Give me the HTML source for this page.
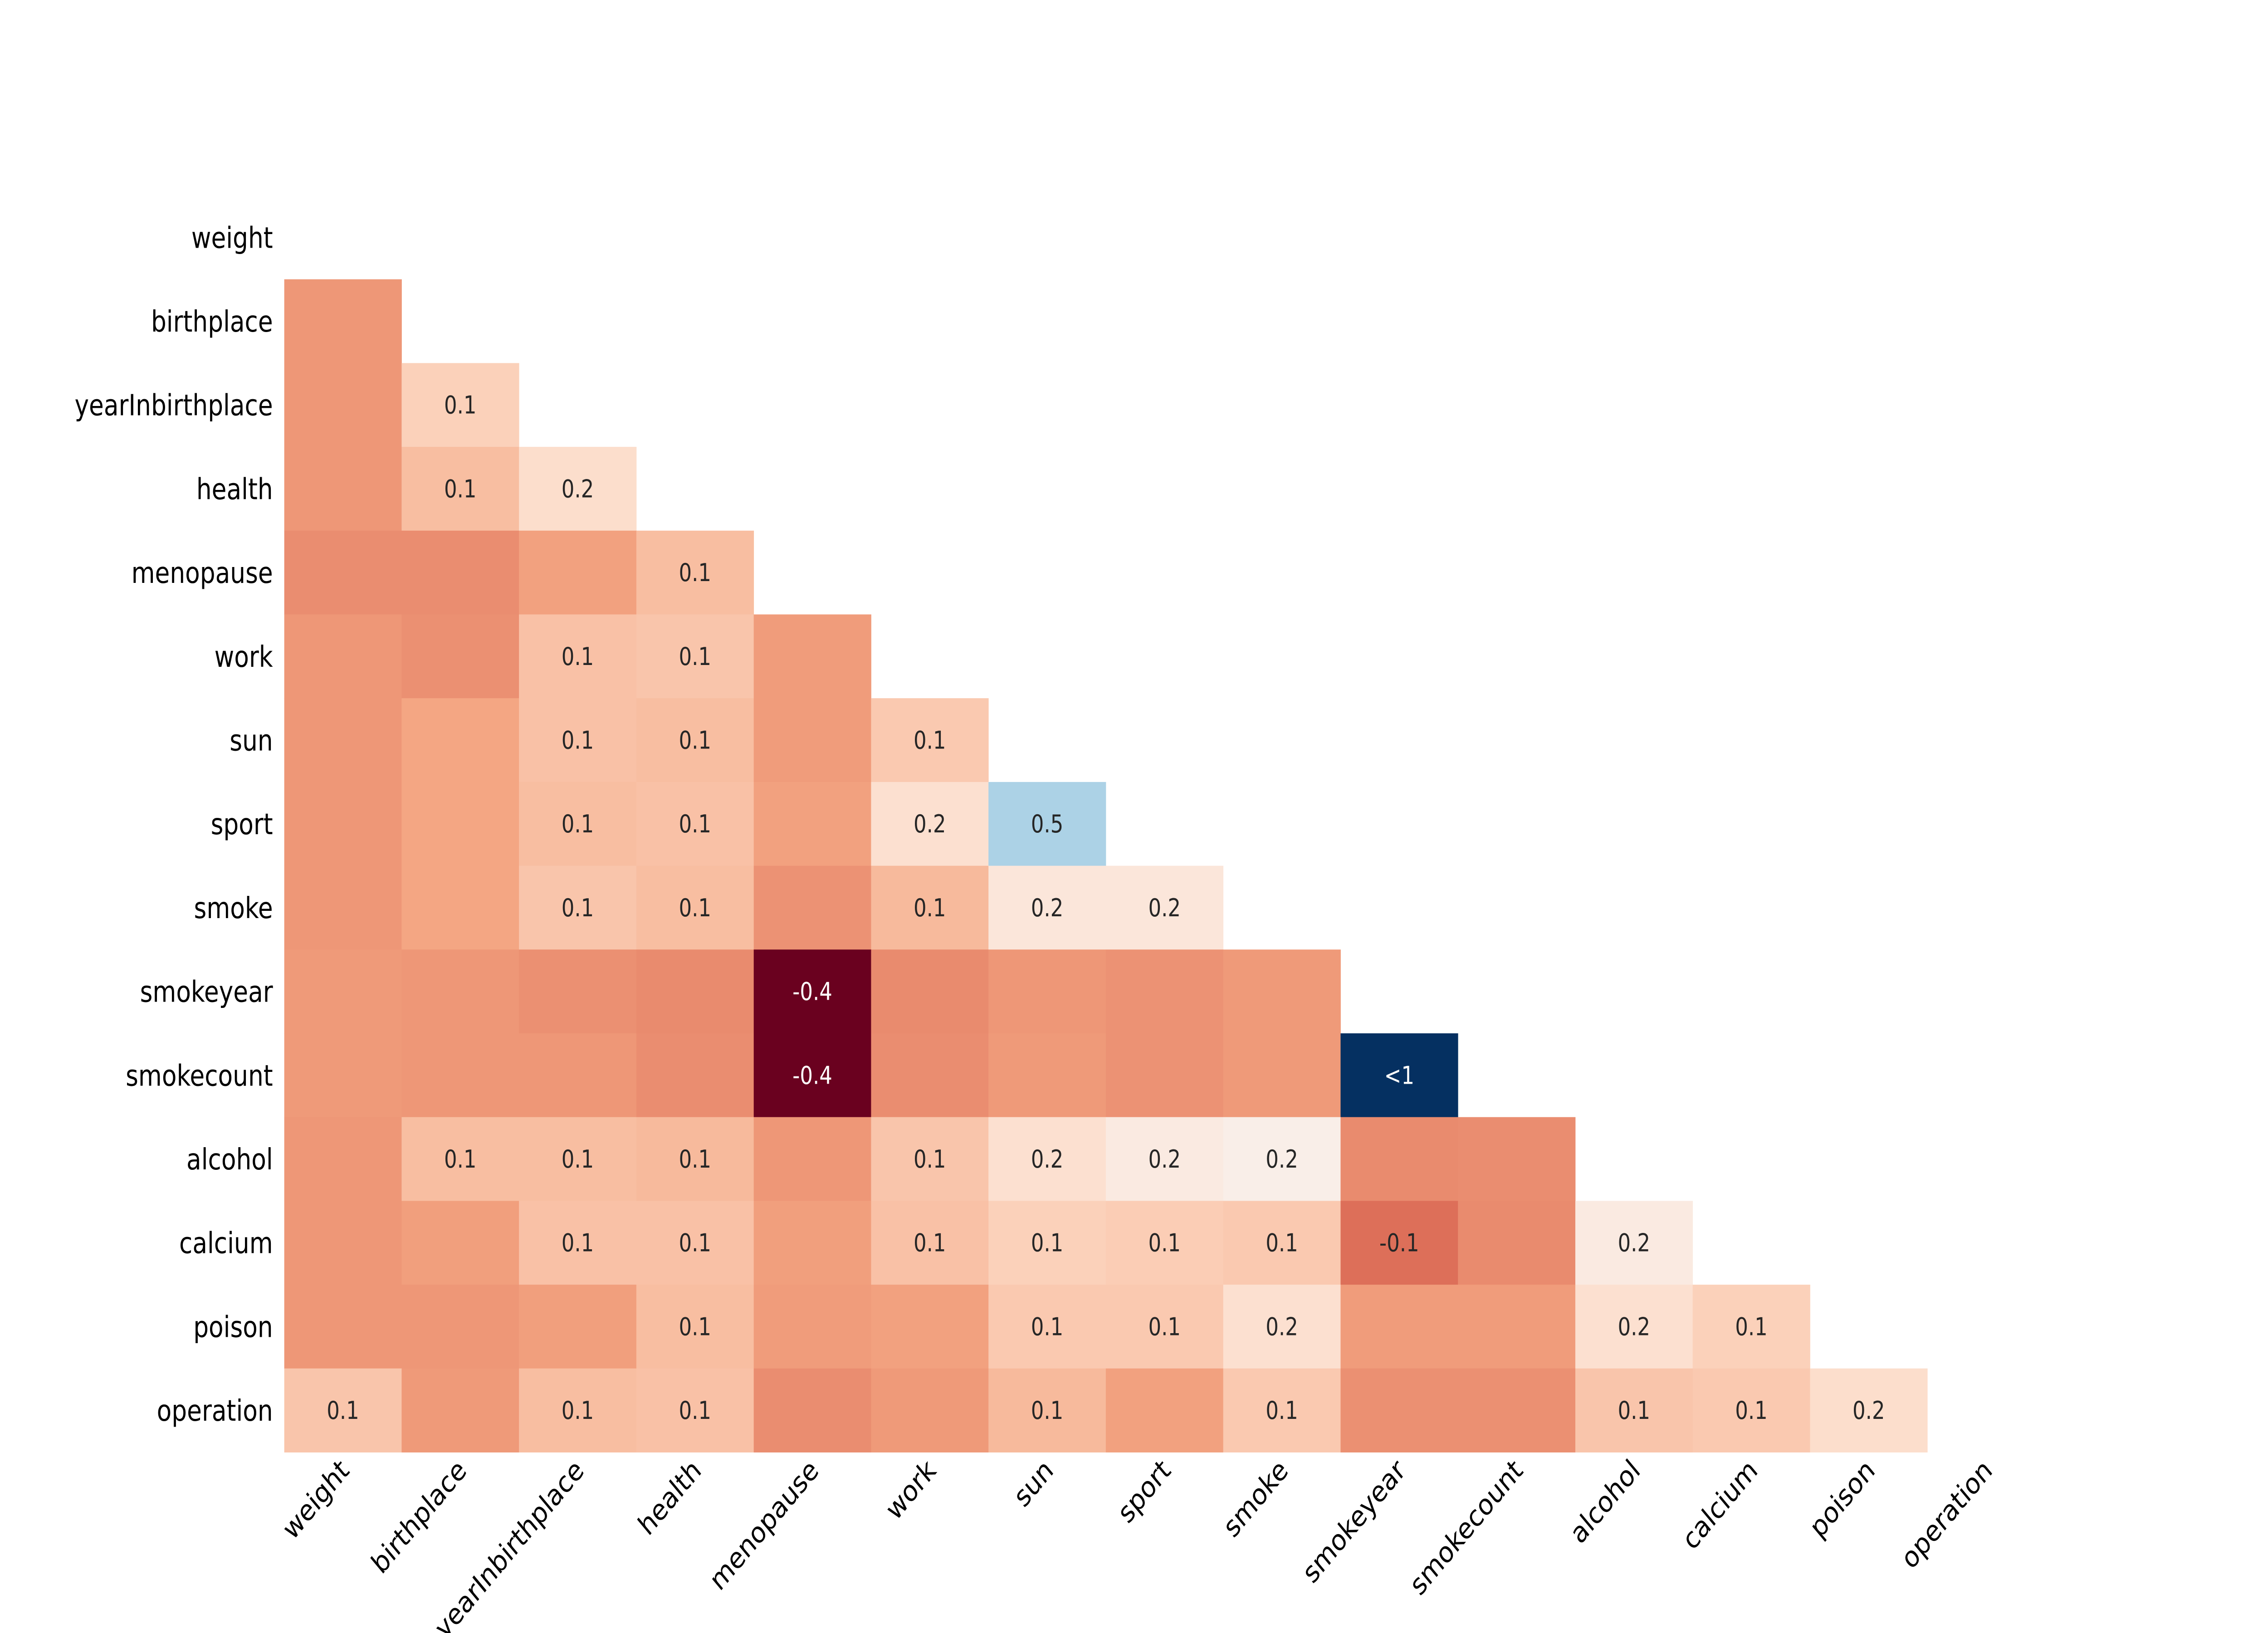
<!DOCTYPE html>
<html><head><meta charset="utf-8"><style>html,body{margin:0;padding:0;background:#fff;width:100%;height:100%;overflow:hidden}svg{display:block;width:100vw;height:100vh}</style></head>
<body>
<svg id="chart" xmlns="http://www.w3.org/2000/svg" viewBox="0 0 6000 3600" preserveAspectRatio="none" font-family="DejaVu Sans, Liberation Sans, sans-serif">
<rect width="6000" height="3600" fill="#fff"/>
<g id="cells"></g>
<g id="ylabels"></g>
<g id="xlabels"></g>
</svg>
<script>
const variables = ["weight","birthplace","yearInbirthplace","health","menopause","work","sun","sport","smoke","smokeyear","smokecount","alcohol","calcium","poison","operation"];
const corrRows = [
  [],
  [-0.02],
  [-0.02,0.12],
  [-0.02,0.07,0.16],
  [-0.04,-0.04,0.0,0.07],
  [-0.02,-0.035,0.08,0.09,-0.01],
  [-0.02,0.01,0.08,0.07,-0.01,0.1],
  [-0.02,0.01,0.07,0.08,0.0,0.17,0.5],
  [-0.02,0.01,0.09,0.07,-0.03,0.06,0.2,0.2],
  [-0.015,-0.02,-0.035,-0.045,-0.4,-0.045,-0.02,-0.03,-0.015],
  [-0.015,-0.02,-0.02,-0.04,-0.4,-0.04,-0.015,-0.03,-0.015,0.97],
  [-0.02,0.07,0.07,0.06,-0.02,0.09,0.17,0.22,0.24,-0.045,-0.04],
  [-0.02,-0.005,0.08,0.08,-0.005,0.08,0.12,0.11,0.1,-0.1,-0.045,0.22],
  [-0.02,-0.02,-0.005,0.07,-0.01,0.0,0.1,0.1,0.17,-0.01,-0.01,0.17,0.12],
  [0.09,-0.015,0.07,0.08,-0.04,-0.015,0.06,0.0,0.1,-0.035,-0.035,0.09,0.1,0.16]
];
const colorDomain = [-0.405, 0.97];

const NS="http://www.w3.org/2000/svg";
const x0=752, cw=310.5, y0=431, ch=184.7;
const stops=["#67001f","#b2182b","#d6604d","#f4a582","#fddbc7","#f7f7f7","#d1e5f0","#92c5de","#4393c3","#2166ac","#053061"];
function hex(h){return [1,3,5].map(i=>parseInt(h.substr(i,2),16));}
function color(v){
  let t=(v-colorDomain[0])/(colorDomain[1]-colorDomain[0]);
  t=Math.max(0,Math.min(1,t))*(stops.length-1);
  const i=Math.min(Math.floor(t),stops.length-2), f=t-i;
  const a=hex(stops[i]), b=hex(stops[i+1]);
  const c=a.map((x,k)=>Math.round(x+(b[k]-x)*f));
  return {fill:`rgb(${c[0]},${c[1]},${c[2]})`, lum:(0.299*c[0]+0.587*c[1]+0.114*c[2])};
}
function label(t){
  if(t>=0.95&&t<1) return "<1";
  if(t>-1&&t<=-0.95) return ">-1";
  if(t===1) return "1";
  if(t===-1) return "-1";
  if(t>-0.05&&t<0.05) return "";
  return (Math.round(t*10)/10).toString();
}
function xs(j){return x0+j*cw;}
function ys(i){return y0+i*ch;}
const cells=document.getElementById('cells');
corrRows.forEach((row,i)=>{
  row.forEach((v,j)=>{
    const c=color(v);
    const r=document.createElementNS(NS,'rect');
    r.setAttribute('x',xs(j));r.setAttribute('y',ys(i));
    r.setAttribute('width',cw+0.5);r.setAttribute('height',ch+0.5);
    r.setAttribute('fill',c.fill);
    
    
    cells.appendChild(r);
    const s=label(v);
    if(s){
      const t=document.createElementNS(NS,'text');
      t.setAttribute('x',xs(j)+cw/2);t.setAttribute('y',ys(i)+ch/2+19);
      t.setAttribute('text-anchor','middle');t.setAttribute('font-size','54');
      t.setAttribute('fill',c.lum<140?'#fff':'#262626');
      t.textContent=s;
      
      
      cells.appendChild(t);
    }
  });
});
const yl=document.getElementById('ylabels');
variables.forEach((n,i)=>{
  const t=document.createElementNS(NS,'text');
  t.setAttribute('x',722);t.setAttribute('y',ys(i)+ch/2+23);
  t.setAttribute('text-anchor','end');t.setAttribute('font-size','64');t.setAttribute('fill','#000');
  t.textContent=n;
  
  
  yl.appendChild(t);
});
const xl=document.getElementById('xlabels');
variables.forEach((n,j)=>{
  const cx=xs(j)+cw/2+20, cy=3245;
  const t=document.createElementNS(NS,'text');
  t.setAttribute('x',cx);t.setAttribute('y',cy);
  t.setAttribute('text-anchor','end');t.setAttribute('font-size','64');t.setAttribute('fill','#000');
  t.setAttribute('transform',`rotate(-45 ${cx} ${cy})`);
  t.textContent=n;
  
  
  xl.appendChild(t);
});
</script>
</body></html>
